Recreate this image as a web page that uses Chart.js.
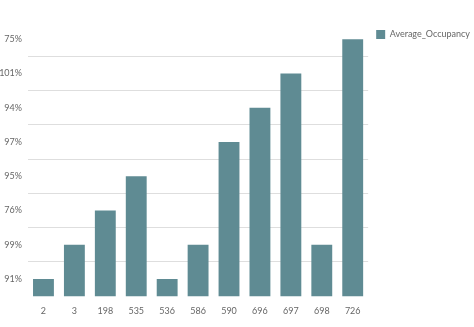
<!DOCTYPE html>
<html>
<head>
<meta charset="utf-8">
<script src="https://cdn.jsdelivr.net/npm/chart.js@4"></script>
<style>
  body { margin: 0; background: #fff; }
  #wrap { width: 474px; height: 327px; }
</style>
</head>
<body>
<div id="wrap"><canvas id="chart"></canvas></div>
<script>
"use strict"
// categories along x
const rooms = ["2", "3", "198", "535", "536", "586", "590", "696", "697", "698", "726"];
// y axis labels, bottom to top (the axis is really a category axis)
const occupancyLabels = ["91%", "99%", "76%", "95%", "97%", "94%", "101%", "75%"];
// which y label each bar reaches (1 = bottom label)
const occupancyLevel = [1, 2, 3, 4, 1, 2, 5, 6, 7, 2, 8];

const barColor = "#5f8b93";
const fontFamily = "Lato, sans-serif";

const ctx = document.getElementById("chart");
new Chart(ctx, {
    type: "bar",
    data: {
        labels: rooms,
        datasets: [{
            label: "Average_Occupancy",
            data: occupancyLevel,
            backgroundColor: barColor,
            borderWidth: 0,
            barPercentage: 0.75,
            categoryPercentage: 0.9
        }]
    },
    options: {
        responsive: true,
        maintainAspectRatio: false,
        animation: false,
        layout: { padding: { top: 22, left: 0, right: -6, bottom: 10 } },
        plugins: {
            legend: {
                position: "right",
                align: "start",
                labels: {
                    boxWidth: 9,
                    boxHeight: 9,
                    padding: 8,
                    color: "#666",
                    font: { family: fontFamily, size: 9 }
                }
            },
            tooltip: { enabled: false }
        },
        scales: {
            x: {
                grid: { display: false },
                border: { display: false },
                ticks: {
                    color: "#666",
                    padding: 1,
                    font: { family: fontFamily, size: 9 },
                    maxRotation: 0,
                    autoSkip: false
                }
            },
            y: {
                min: 0.5,
                max: 8.5,
                border: { display: false },
                afterFit: function(scale) { scale.width = 28; },
                grid: {
                    color: function(c) {
                        const v = c.tick ? c.tick.value : 0;
                        if (Number.isInteger(v) || v <= 0.5 || v >= 8.5) return "transparent";
                        return "#dedede";
                    },
                    lineWidth: 1,
                    drawTicks: false
                },
                ticks: {
                    stepSize: 0.5,
                    autoSkip: false,
                    padding: 6,
                    color: "#666",
                    font: { family: fontFamily, size: 9 },
                    callback: function(value) {
                        if (Number.isInteger(value)) return occupancyLabels[value - 1];
                        return "";
                    }
                }
            }
        }
    }
});
</script>
</body>
</html>
